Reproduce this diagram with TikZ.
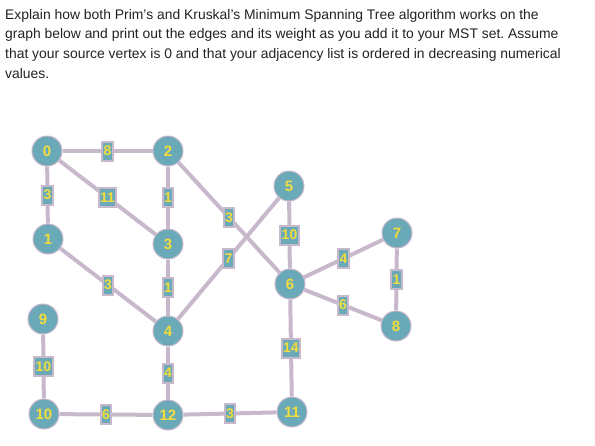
\documentclass[tikz,border=0pt]{standalone}
\usepackage{fontspec}
\setmainfont{Liberation Sans}
\definecolor{tealc}{HTML}{6AAAB8}
\definecolor{lil}{HTML}{C8B8CC}
\definecolor{yel}{HTML}{F2DC3C}
\definecolor{txt}{HTML}{222222}
\begin{document}
\frenchspacing
\begin{tikzpicture}[x=1pt,y=-1pt,
  vtx/.style={circle,fill=tealc,draw=lil,line width=1pt,minimum size=30pt,inner sep=0pt,text=yel,font=\bfseries\fontsize{15}{15}\selectfont},
  wt/.style={fill=tealc,draw=lil,line width=2pt,text=yel,font=\bfseries\fontsize{14}{14}\selectfont,inner xsep=1.5pt,inner ysep=2pt,minimum height=19pt},
  edge/.style={draw=lil,line width=4pt}]
\useasboundingbox (0,0) rectangle (595,445);
\node[anchor=north west,align=left,inner sep=0pt,text=txt,font=\fontsize{13.9}{19.6}\selectfont] (q) at (5,9)
 {Explain how both Prim’s and Kruskal’s Minimum Spanning Tree algorithm works on the\\
  graph below and print out the edges and its weight as you add it to your MST set. Assume\\
  that your source vertex is 0 and that your adjacency list is ordered in decreasing numerical\\
  values.};
\node[vtx] (n0) at (47,151) {0};
\node[vtx] (n2) at (168,151) {2};
\node[vtx] (n1) at (48,239) {1};
\node[vtx] (n3) at (168,244) {3};
\node[vtx] (n5) at (289,186) {5};
\node[vtx] (n7) at (397,233) {7};
\node[vtx] (n6) at (290,284) {6};
\node[vtx] (n8) at (396,326) {8};
\node[vtx] (n4) at (168,331) {4};
\node[vtx] (n9) at (43,319) {9};
\node[vtx] (n10) at (44,414) {10};
\node[vtx] (n12) at (168,415) {12};
\node[vtx] (n11) at (292,412) {11};
\draw[edge] (n0) -- node[wt]{8} (n2);
\draw[edge] (n0) -- node[wt]{3} (n1);
\draw[edge] (n0) -- node[wt]{11} (n3);
\draw[edge] (n2) -- node[wt]{1} (n3);
\draw[edge] (n2) -- node[wt]{3} (n6);
\draw[edge] (n4) -- node[wt]{7} (n5);
\draw[edge] (n1) -- node[wt]{3} (n4);
\draw[edge] (n3) -- node[wt]{1} (n4);
\draw[edge] (n5) -- node[wt]{10} (n6);
\draw[edge] (n6) -- node[wt]{4} (n7);
\draw[edge] (n6) -- node[wt]{6} (n8);
\draw[edge] (n7) -- node[wt]{1} (n8);
\draw[edge] (n6) -- node[wt]{14} (n11);
\draw[edge] (n4) -- node[wt]{4} (n12);
\draw[edge] (n9) -- node[wt]{10} (n10);
\draw[edge] (n10) -- node[wt]{6} (n12);
\draw[edge] (n12) -- node[wt]{3} (n11);
\end{tikzpicture}
\end{document}
